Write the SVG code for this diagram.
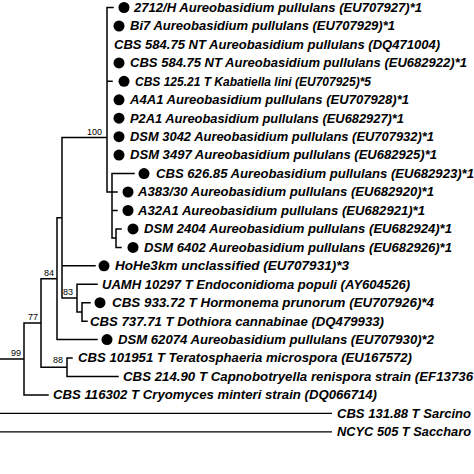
<svg xmlns="http://www.w3.org/2000/svg" width="474" height="474" viewBox="0 0 474 474">
<style>
.e{stroke:#000;stroke-width:1.5;fill:none;stroke-linecap:square}
.l{stroke:#000;stroke-width:1.4;fill:none}
.t{font-family:"Liberation Sans",Arial,sans-serif;font-size:12px;font-style:italic;font-weight:bold;fill:#000}
.b{font-family:"Liberation Sans",Arial,sans-serif;font-size:9px;fill:#000}
.d{fill:#000}
</style>
<rect width="474" height="474" fill="#fff"/>
<g id="connectors">
<path class="e" d="M0,359 H24 M24,323 V395 M24,395 H48 M24,323 H41 M41,278.7 V367.3 M41,367.3 H67 M67,358 V376.5 M67,358 H72 M67,376.5 H118 M41,278.7 H57 M57,217.8 V339.6 M57,339.6 H97 M57,217.8 H62 M62,137.5 V298.1 M62,265.8 H95 M62,298.1 H77 M77,284.3 V312 M77,284.3 H97 M77,312 H82 M82,302.7 V321.2 M82,302.7 H90 M82,321.2 H87 M62,137.5 H107 M107,7.5 V192 M107,7.5 H113 M107,81.3 H112 M107,192 H112 M112,173.6 V238.1 M112,173.6 H134 M112,192 H117 M112,210.5 H117 M112,238.1 H116 M116,228.9 V247.4 M116,228.9 H121 M116,247.4 H121"/>
<path class="l" d="M0,413.4 H332 M0,431.9 H332"/>
</g>
<g id="support">
<text class="b" x="87" y="134.5">100</text>
<text class="b" x="44" y="275.5">84</text>
<text class="b" x="63" y="294.5">83</text>
<text class="b" x="28" y="319.5">77</text>
<text class="b" x="11" y="355.5">99</text>
<text class="b" x="53" y="363">88</text>
</g>
<g id="n1"><circle class="d" cx="124" cy="7.5" r="5.5"/><text class="t" x="134" y="11.8" textLength="288" lengthAdjust="spacingAndGlyphs">2712/H Aureobasidium pullulans (EU707927)*1</text></g>
<g id="n2"><circle class="d" cx="119" cy="26" r="5.5"/><text class="t" x="130" y="30.3" textLength="265" lengthAdjust="spacingAndGlyphs">Bi7 Aureobasidium pullulans (EU707929)*1</text></g>
<g id="n3"><text class="t" x="114" y="48.7" textLength="326" lengthAdjust="spacingAndGlyphs">CBS 584.75 NT Aureobasidium pullulans (DQ471004)</text></g>
<g id="n4"><circle class="d" cx="119" cy="62.9" r="5.5"/><text class="t" x="130" y="67.2" textLength="337" lengthAdjust="spacingAndGlyphs">CBS 584.75 NT Aureobasidium pullulans (EU682922)*1</text></g>
<g id="n5"><circle class="d" cx="124" cy="81.3" r="5.5"/><text class="t" x="135" y="85.6" textLength="236" lengthAdjust="spacingAndGlyphs">CBS 125.21 T Kabatiella lini (EU707925)*5</text></g>
<g id="n6"><circle class="d" cx="119" cy="99.8" r="5.5"/><text class="t" x="130" y="104.1" textLength="279" lengthAdjust="spacingAndGlyphs">A4A1 Aureobasidium pullulans (EU707928)*1</text></g>
<g id="n7"><circle class="d" cx="119" cy="118.2" r="5.5"/><text class="t" x="130" y="122.5" textLength="274" lengthAdjust="spacingAndGlyphs">P2A1 Aureobasidium pullulans (EU682927)*1</text></g>
<g id="n8"><circle class="d" cx="119" cy="136.7" r="5.5"/><text class="t" x="130" y="141" textLength="304" lengthAdjust="spacingAndGlyphs">DSM 3042 Aureobasidium pullulans (EU707932)*1</text></g>
<g id="n9"><circle class="d" cx="119" cy="155.1" r="5.5"/><text class="t" x="130" y="159.4" textLength="307" lengthAdjust="spacingAndGlyphs">DSM 3497 Aureobasidium pullulans (EU682925)*1</text></g>
<g id="n10"><circle class="d" cx="144" cy="173.6" r="5.5"/><text class="t" x="156" y="177.9" textLength="318" lengthAdjust="spacingAndGlyphs">CBS 626.85 Aureobasidium pullulans (EU682923)*1</text></g>
<g id="n11"><circle class="d" cx="128" cy="192" r="5.5"/><text class="t" x="138" y="196.3" textLength="296" lengthAdjust="spacingAndGlyphs">A383/30 Aureobasidium pullulans (EU682920)*1</text></g>
<g id="n12"><circle class="d" cx="128" cy="210.5" r="5.5"/><text class="t" x="138" y="214.8" textLength="287" lengthAdjust="spacingAndGlyphs">A32A1 Aureobasidium pullulans (EU682921)*1</text></g>
<g id="n13"><circle class="d" cx="133" cy="228.9" r="5.5"/><text class="t" x="144" y="233.2" textLength="308" lengthAdjust="spacingAndGlyphs">DSM 2404 Aureobasidium pullulans (EU682924)*1</text></g>
<g id="n14"><circle class="d" cx="133" cy="247.4" r="5.5"/><text class="t" x="144" y="251.7" textLength="308" lengthAdjust="spacingAndGlyphs">DSM 6402 Aureobasidium pullulans (EU682926)*1</text></g>
<g id="n15"><circle class="d" cx="104" cy="265.8" r="5.5"/><text class="t" x="115" y="270.1" textLength="234" lengthAdjust="spacingAndGlyphs">HoHe3km unclassified (EU707931)*3</text></g>
<g id="n16"><text class="t" x="102" y="288.6" textLength="308" lengthAdjust="spacingAndGlyphs">UAMH 10297 T Endoconidioma populi (AY604526)</text></g>
<g id="n17"><circle class="d" cx="100" cy="302.7" r="5.5"/><text class="t" x="112" y="307" textLength="322" lengthAdjust="spacingAndGlyphs">CBS 933.72 T Hormonema prunorum (EU707926)*4</text></g>
<g id="n18"><text class="t" x="90" y="325.5" textLength="294" lengthAdjust="spacingAndGlyphs">CBS 737.71 T Dothiora cannabinae (DQ479933)</text></g>
<g id="n19"><circle class="d" cx="107" cy="339.6" r="5.5"/><text class="t" x="118" y="343.9" textLength="316" lengthAdjust="spacingAndGlyphs">DSM 62074 Aureobasidium pullulans (EU707930)*2</text></g>
<g id="n20"><text class="t" x="78" y="362.4" textLength="334" lengthAdjust="spacingAndGlyphs">CBS 101951 T Teratosphaeria microspora (EU167572)</text></g>
<g id="n21"><text class="t" x="123" y="380.8" textLength="350" lengthAdjust="spacingAndGlyphs">CBS 214.90 T Capnobotryella renispora strain (EF13736</text></g>
<g id="n22"><text class="t" x="53" y="399.3" textLength="324" lengthAdjust="spacingAndGlyphs">CBS 116302 T Cryomyces minteri strain (DQ066714)</text></g>
<g id="n23"><text class="t" x="337" y="417.7" textLength="134" lengthAdjust="spacingAndGlyphs">CBS 131.88 T Sarcino</text></g>
<g id="n24"><text class="t" x="337" y="436.2" textLength="134" lengthAdjust="spacingAndGlyphs">NCYC 505 T Saccharo</text></g>
</svg>
